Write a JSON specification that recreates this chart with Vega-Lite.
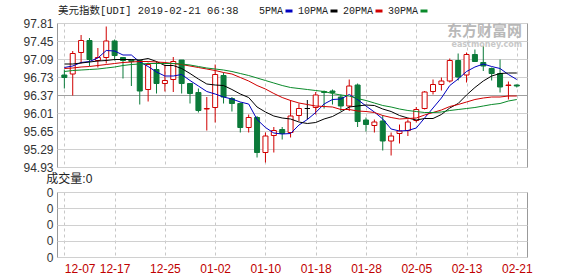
{
  "$schema": "https://vega.github.io/schema/vega-lite/v6.json",
  "padding": {"left": 22, "top": 6, "right": 0, "bottom": 0},
  "background": "#ffffff",
  "data": {"values": [
    {"i":0,"d":"12-07","o":96.77,"h":96.88,"l":96.50,"c":96.72,"5PMA":96.92,"10PMA":96.99,"20PMA":96.90,"30PMA":96.84,"vol":0},
    {"i":1,"d":"12-10","o":96.79,"h":97.25,"l":96.36,"c":97.20,"5PMA":96.95,"10PMA":96.99,"20PMA":96.91,"30PMA":96.86,"vol":0},
    {"i":2,"d":"12-11","o":97.22,"h":97.57,"l":97.00,"c":97.46,"5PMA":97.02,"10PMA":97.01,"20PMA":96.93,"30PMA":96.87,"vol":0},
    {"i":3,"d":"12-12","o":97.46,"h":97.51,"l":96.95,"c":97.08,"5PMA":97.04,"10PMA":97.03,"20PMA":96.94,"30PMA":96.88,"vol":0},
    {"i":4,"d":"12-13","o":97.06,"h":97.31,"l":96.92,"c":97.12,"5PMA":97.11,"10PMA":97.05,"20PMA":96.96,"30PMA":96.89,"vol":0},
    {"i":5,"d":"12-14","o":97.12,"h":97.74,"l":97.00,"c":97.45,"5PMA":97.26,"10PMA":97.06,"20PMA":96.98,"30PMA":96.91,"vol":0},
    {"i":6,"d":"12-17","o":97.45,"h":97.48,"l":97.06,"c":97.16,"5PMA":97.25,"10PMA":97.08,"20PMA":97.00,"30PMA":96.93,"vol":0},
    {"i":7,"d":"12-18","o":97.12,"h":97.13,"l":96.70,"c":97.06,"5PMA":97.17,"10PMA":97.08,"20PMA":97.02,"30PMA":96.96,"vol":0},
    {"i":8,"d":"12-19","o":97.07,"h":97.08,"l":96.55,"c":97.04,"5PMA":97.17,"10PMA":97.08,"20PMA":97.03,"30PMA":96.98,"vol":0},
    {"i":9,"d":"12-20","o":97.06,"h":97.08,"l":96.18,"c":96.45,"5PMA":97.03,"10PMA":97.07,"20PMA":97.04,"30PMA":96.99,"vol":0},
    {"i":10,"d":"12-21","o":96.48,"h":97.02,"l":96.24,"c":96.98,"5PMA":96.94,"10PMA":97.10,"20PMA":97.04,"30PMA":97.00,"vol":0},
    {"i":11,"d":"12-24","o":96.88,"h":97.05,"l":96.40,"c":96.60,"5PMA":96.83,"10PMA":97.04,"20PMA":97.03,"30PMA":97.00,"vol":0},
    {"i":12,"d":"12-25","o":96.60,"h":96.98,"l":96.44,"c":96.66,"5PMA":96.75,"10PMA":96.96,"20PMA":97.02,"30PMA":97.00,"vol":0},
    {"i":13,"d":"12-26","o":96.68,"h":97.13,"l":96.43,"c":97.04,"5PMA":96.75,"10PMA":96.96,"20PMA":97.00,"30PMA":97.00,"vol":0},
    {"i":14,"d":"12-27","o":97.07,"h":97.07,"l":96.40,"c":96.60,"5PMA":96.78,"10PMA":96.90,"20PMA":96.98,"30PMA":96.99,"vol":0},
    {"i":15,"d":"12-28","o":96.60,"h":96.60,"l":96.20,"c":96.40,"5PMA":96.66,"10PMA":96.80,"20PMA":96.95,"30PMA":96.97,"vol":0},
    {"i":16,"d":"12-31","o":96.42,"h":96.50,"l":96.02,"c":96.06,"5PMA":96.55,"10PMA":96.69,"20PMA":96.92,"30PMA":96.94,"vol":0},
    {"i":17,"d":"01-01","o":96.09,"h":96.33,"l":95.66,"c":96.10,"5PMA":96.44,"10PMA":96.59,"20PMA":96.89,"30PMA":96.91,"vol":0},
    {"i":18,"d":"01-02","o":96.12,"h":96.98,"l":95.82,"c":96.78,"5PMA":96.39,"10PMA":96.57,"20PMA":96.86,"30PMA":96.89,"vol":0},
    {"i":19,"d":"01-03","o":96.76,"h":96.82,"l":96.20,"c":96.33,"5PMA":96.33,"10PMA":96.56,"20PMA":96.82,"30PMA":96.87,"vol":0},
    {"i":20,"d":"01-04","o":96.30,"h":96.33,"l":96.04,"c":96.20,"5PMA":96.29,"10PMA":96.48,"20PMA":96.79,"30PMA":96.84,"vol":0},
    {"i":21,"d":"01-07","o":96.20,"h":96.22,"l":95.62,"c":95.72,"5PMA":96.23,"10PMA":96.39,"20PMA":96.72,"30PMA":96.80,"vol":0},
    {"i":22,"d":"01-08","o":95.72,"h":95.98,"l":95.62,"c":95.92,"5PMA":96.19,"10PMA":96.32,"20PMA":96.65,"30PMA":96.76,"vol":0},
    {"i":23,"d":"01-09","o":95.92,"h":95.95,"l":95.12,"c":95.22,"5PMA":95.88,"10PMA":96.13,"20PMA":96.56,"30PMA":96.71,"vol":0},
    {"i":24,"d":"01-10","o":95.22,"h":95.62,"l":95.02,"c":95.55,"5PMA":95.72,"10PMA":96.03,"20PMA":96.49,"30PMA":96.66,"vol":0},
    {"i":25,"d":"01-11","o":95.56,"h":95.73,"l":95.22,"c":95.66,"5PMA":95.61,"10PMA":95.95,"20PMA":96.40,"30PMA":96.61,"vol":0},
    {"i":26,"d":"01-14","o":95.68,"h":95.73,"l":95.48,"c":95.60,"5PMA":95.59,"10PMA":95.91,"20PMA":96.32,"30PMA":96.56,"vol":0},
    {"i":27,"d":"01-15","o":95.62,"h":96.27,"l":95.52,"c":95.95,"5PMA":95.60,"10PMA":95.89,"20PMA":96.26,"30PMA":96.52,"vol":0},
    {"i":28,"d":"01-16","o":95.96,"h":96.20,"l":95.85,"c":96.10,"5PMA":95.77,"10PMA":95.83,"20PMA":96.21,"30PMA":96.50,"vol":0},
    {"i":29,"d":"01-17","o":96.10,"h":96.27,"l":95.88,"c":96.10,"5PMA":95.88,"10PMA":95.80,"20PMA":96.18,"30PMA":96.48,"vol":0},
    {"i":30,"d":"01-18","o":96.12,"h":96.43,"l":95.98,"c":96.37,"5PMA":96.02,"10PMA":95.82,"20PMA":96.15,"30PMA":96.46,"vol":0},
    {"i":31,"d":"01-21","o":96.44,"h":96.46,"l":96.10,"c":96.42,"5PMA":96.19,"10PMA":95.89,"20PMA":96.14,"30PMA":96.44,"vol":0},
    {"i":32,"d":"01-22","o":96.45,"h":96.48,"l":96.18,"c":96.42,"5PMA":96.28,"10PMA":95.94,"20PMA":96.13,"30PMA":96.40,"vol":0},
    {"i":33,"d":"01-23","o":96.33,"h":96.38,"l":96.05,"c":96.15,"5PMA":96.29,"10PMA":96.03,"20PMA":96.08,"30PMA":96.37,"vol":0},
    {"i":34,"d":"01-24","o":96.15,"h":96.68,"l":96.05,"c":96.55,"5PMA":96.38,"10PMA":96.13,"20PMA":96.08,"30PMA":96.35,"vol":0},
    {"i":35,"d":"01-25","o":96.57,"h":96.60,"l":95.73,"c":95.84,"5PMA":96.28,"10PMA":96.15,"20PMA":96.05,"30PMA":96.30,"vol":0},
    {"i":36,"d":"01-28","o":95.87,"h":95.92,"l":95.64,"c":95.78,"5PMA":96.15,"10PMA":96.17,"20PMA":96.04,"30PMA":96.26,"vol":0},
    {"i":37,"d":"01-29","o":95.76,"h":95.88,"l":95.62,"c":95.83,"5PMA":96.03,"10PMA":96.16,"20PMA":96.02,"30PMA":96.21,"vol":0},
    {"i":38,"d":"01-30","o":95.85,"h":95.97,"l":95.26,"c":95.45,"5PMA":95.89,"10PMA":96.09,"20PMA":95.96,"30PMA":96.16,"vol":0},
    {"i":39,"d":"01-31","o":95.45,"h":95.62,"l":95.16,"c":95.55,"5PMA":95.69,"10PMA":96.04,"20PMA":95.92,"30PMA":96.13,"vol":0},
    {"i":40,"d":"02-01","o":95.60,"h":95.78,"l":95.40,"c":95.65,"5PMA":95.65,"10PMA":95.96,"20PMA":95.89,"30PMA":96.09,"vol":0},
    {"i":41,"d":"02-04","o":95.66,"h":95.88,"l":95.55,"c":95.83,"5PMA":95.66,"10PMA":95.91,"20PMA":95.90,"30PMA":96.06,"vol":0},
    {"i":42,"d":"02-05","o":95.86,"h":96.13,"l":95.82,"c":96.08,"5PMA":95.71,"10PMA":95.87,"20PMA":95.91,"30PMA":96.04,"vol":0},
    {"i":43,"d":"02-06","o":96.10,"h":96.45,"l":96.08,"c":96.43,"5PMA":95.91,"10PMA":95.90,"20PMA":95.97,"30PMA":96.02,"vol":0},
    {"i":44,"d":"02-07","o":96.44,"h":96.68,"l":96.38,"c":96.58,"5PMA":96.11,"10PMA":95.90,"20PMA":96.02,"30PMA":96.02,"vol":0},
    {"i":45,"d":"02-08","o":96.58,"h":96.72,"l":96.46,"c":96.65,"5PMA":96.31,"10PMA":95.98,"20PMA":96.07,"30PMA":96.03,"vol":0},
    {"i":46,"d":"02-11","o":96.65,"h":97.10,"l":96.62,"c":97.06,"5PMA":96.56,"10PMA":96.11,"20PMA":96.14,"30PMA":96.06,"vol":0},
    {"i":47,"d":"02-12","o":97.06,"h":97.20,"l":96.66,"c":96.73,"5PMA":96.69,"10PMA":96.20,"20PMA":96.18,"30PMA":96.08,"vol":0},
    {"i":48,"d":"02-13","o":96.77,"h":97.22,"l":96.62,"c":97.18,"5PMA":96.84,"10PMA":96.37,"20PMA":96.23,"30PMA":96.10,"vol":0},
    {"i":49,"d":"02-14","o":97.18,"h":97.28,"l":97.03,"c":97.04,"5PMA":96.93,"10PMA":96.52,"20PMA":96.28,"30PMA":96.12,"vol":0},
    {"i":50,"d":"02-15","o":97.02,"h":97.35,"l":96.85,"c":96.95,"5PMA":96.99,"10PMA":96.65,"20PMA":96.31,"30PMA":96.15,"vol":0},
    {"i":51,"d":"02-18","o":96.90,"h":96.92,"l":96.66,"c":96.80,"5PMA":96.94,"10PMA":96.75,"20PMA":96.33,"30PMA":96.18,"vol":0},
    {"i":52,"d":"02-19","o":96.80,"h":97.08,"l":96.42,"c":96.53,"5PMA":96.90,"10PMA":96.80,"20PMA":96.33,"30PMA":96.20,"vol":0},
    {"i":53,"d":"02-20","o":96.56,"h":96.64,"l":96.28,"c":96.57,"5PMA":96.78,"10PMA":96.81,"20PMA":96.35,"30PMA":96.25,"vol":0},
    {"i":54,"d":"02-21","o":96.57,"h":96.58,"l":96.52,"c":96.55,"5PMA":96.68,"10PMA":96.81,"20PMA":96.35,"30PMA":96.28,"vol":0}
  ]},
  "spacing": 25,
  "bounds": "flush",
  "vconcat": [
    {
      "width": 470,
      "height": 144,
      "encoding": {
        "x": {"field": "i", "type": "quantitative",
          "scale": {"domain": [-0.28, 54.62], "nice": false, "zero": false},
          "axis": {"values": [0,6,12,18,24,30,36,42,48,54], "tickCount": 20, "labels": false, "ticks": false, "domain": false, "title": null, "grid": true, "gridDash": [3,3], "gridColor": "#c8c8c8"}}
      },
      "layer": [
        {
          "mark": {"type": "rule", "strokeWidth": 1},
          "encoding": {
            "y": {"field": "l", "type": "quantitative",
              "scale": {"domain": [94.93, 97.81], "nice": false, "zero": false},
              "axis": {"values": [94.93,95.29,95.65,96.01,96.37,96.73,97.09,97.45,97.81], "tickCount": 20, "format": ".2f", "title": null, "ticks": false, "domain": false, "labelPadding": 4, "labelOverlap": false, "grid": true,
                "gridColor": {"condition": {"test": "abs(datum.value - 96.37) < 0.001", "value": "#a0a0a0"}, "value": "#d0d0d0"}}},
            "y2": {"field": "h"},
            "stroke": {"condition": [{"test": "datum.c > datum.o", "value": "#d00000"}, {"test": "datum.c < datum.o", "value": "#0b7a3a"}], "value": "#000000"}
          }
        },
        {
          "mark": {"type": "bar", "width": 5, "strokeWidth": 1},
          "encoding": {
            "y": {"field": "o", "type": "quantitative", "scale": {"domain": [94.93, 97.81], "nice": false, "zero": false}, "title": null},
            "y2": {"field": "c"},
            "fill": {"condition": [{"test": "datum.c > datum.o", "value": "#ffffff"}, {"test": "datum.c < datum.o", "value": "#0b7a3a"}], "value": "#000000"},
            "stroke": {"condition": [{"test": "datum.c > datum.o", "value": "#d00000"}, {"test": "datum.c < datum.o", "value": "#0b7a3a"}], "value": "#000000"}
          }
        },
        {
          "transform": [{"fold": ["5PMA", "10PMA", "20PMA", "30PMA"], "as": ["ma", "v"]}],
          "mark": {"type": "line", "strokeWidth": 1, "interpolate": "linear"},
          "encoding": {
            "y": {"field": "v", "type": "quantitative", "scale": {"domain": [94.93, 97.81], "nice": false, "zero": false}, "title": null},
            "color": {"field": "ma", "type": "nominal",
              "scale": {"domain": ["5PMA", "10PMA", "20PMA", "30PMA"], "range": ["#0000c0", "#000000", "#d00000", "#0a8a2a"]},
              "legend": {"orient": "none", "legendX": 1, "legendY": -17, "direction": "horizontal",
                "title": "美元指数[UDI] 2019-02-21 06:38", "titleOrient": "left", "titleAnchor": "start", "titleBaseline": "top", "titlePadding": 45, "titleLimit": 400,
                "titleFont": "Liberation Mono, Noto Sans CJK SC", "titleFontSize": 10.5, "titleFontWeight": "normal", "titleColor": "#222222",
                "symbolType": "stroke", "symbolStrokeWidth": 3, "symbolSize": 49,
                "labelFont": "Liberation Mono", "labelFontSize": 10, "labelColor": "#222222",
                "labelAlign": "right", "labelOffset": -11, "columnPadding": -2, "padding": 0}}
          }
        },
        {
          "transform": [{"filter": "datum.i == 54"}],
          "mark": {"type": "text", "align": "right", "baseline": "middle", "font": "Noto Sans CJK SC", "fontSize": 15, "fontWeight": "bold", "color": "#b8b8b8"},
          "encoding": {
            "x": {"datum": 54.62, "type": "quantitative"},
            "y": {"datum": 97.66, "type": "quantitative"},
            "text": {"value": "东方财富网"}
          }
        },
        {
          "transform": [{"filter": "datum.i == 54"}],
          "mark": {"type": "text", "align": "right", "baseline": "middle", "font": "DejaVu Sans", "fontSize": 8, "fontWeight": "bold", "color": "#c8c8c8"},
          "encoding": {
            "x": {"datum": 54.62, "type": "quantitative"},
            "y": {"datum": 97.38, "type": "quantitative"},
            "text": {"value": "eastmoney.com"}
          }
        }
      ]
    },
    {
      "width": 470,
      "height": 65,
      "title": {"text": "成交量:0", "anchor": "start", "orient": "top", "offset": -12, "baseline": "bottom", "font": "Liberation Sans, Noto Sans CJK SC", "fontSize": 12, "fontWeight": "normal", "color": "#222222"},
      "mark": {"type": "bar", "width": 5},
      "encoding": {
        "x": {"field": "i", "type": "quantitative",
          "scale": {"domain": [-0.28, 54.62], "nice": false, "zero": false},
          "axis": {"values": [0,6,12,18,24,30,36,42,48,54], "tickCount": 20,
            "labelExpr": "['12-07','12-17','12-25','01-02','01-10','01-18','01-28','02-05','02-13','02-21'][round(datum.value/6)]",
            "labelFlush": false, "labelAlign": {"condition": {"test": "datum.value < 1", "value": "left"}, "value": "center"},
            "labelColor": "#c00000", "labelPadding": 6, "labelOverlap": false, "ticks": false, "tickSize": 0, "domain": false, "title": null,
            "grid": true, "gridDash": [3,3], "gridColor": "#c8c8c8"}},
        "y": {"field": "vol", "type": "quantitative",
          "scale": {"domain": [0, 4], "nice": false, "zero": true},
          "axis": {"values": [0,1,2,3,4], "tickCount": 20, "labelExpr": "'0'", "labelOverlap": false, "title": null, "ticks": false, "domain": false, "labelPadding": 4, "grid": true, "gridColor": "#d0d0d0"}},
        "color": {"value": "#0b7a3a"}
      }
    }
  ],
  "config": {
    "view": {"stroke": "#999999", "strokeWidth": 1},
    "axis": {"labelFont": "Liberation Sans", "labelFontSize": 12, "labelColor": "#333333"}
  }
}
